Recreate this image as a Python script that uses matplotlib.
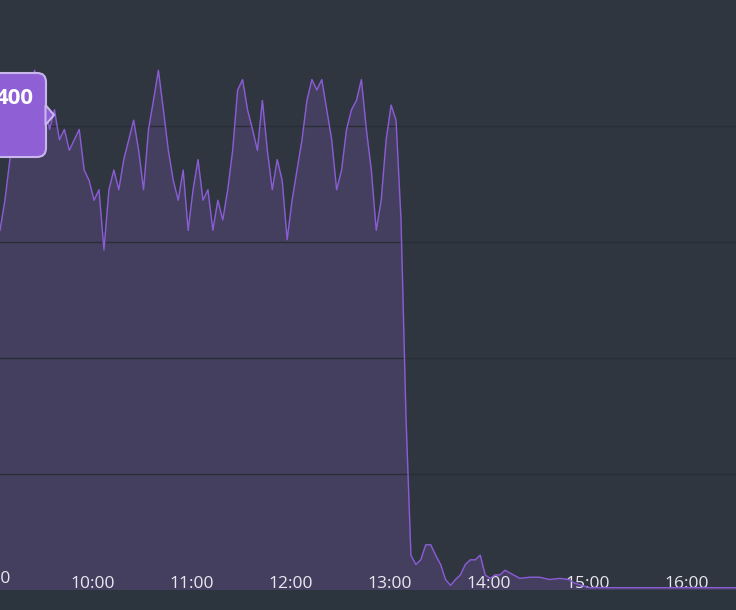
import matplotlib
matplotlib.use("Agg")
import matplotlib.pyplot as plt
import numpy as np
from matplotlib.patches import FancyBboxPatch, Polygon

BG = "#2f3640"
FILL = "#453f5f"
LINE = "#8a5cd6"

values_main = [
    310, 336, 371, 388, 379, 414, 431, 448, 414, 422, 397, 414, 388, 397, 379, 388,
    397, 362, 353, 336, 345, 293, 345, 362, 345, 371, 388, 405, 379, 345, 397, 422,
    448, 414, 379, 353, 336, 362, 310, 345, 371, 336, 345, 310, 336, 319, 345, 379,
    431, 440, 414, 397, 379, 422, 379, 345, 371, 353, 302, 336, 362, 388, 422, 440,
    431, 440, 414, 388, 345, 362, 397, 414, 422, 440, 397, 362, 310, 336, 388, 418,
    405, 319, 150, 30, 22, 26, 39, 39, 30, 22, 9, 4, 9, 13, 22, 26, 26, 30, 13, 10,
    13, 13, 17,
]
tail_minutes = [859, 865, 871, 877, 883, 889, 892, 901, 920, 990]
tail_values = [10, 11, 11, 9, 10, 9, 6, 2, 2, 2]

minutes = list(544 + 3 * np.arange(len(values_main))) + tail_minutes
values = values_main + tail_values

tick_minutes = [600, 660, 720, 780, 840, 900, 960]
tick_labels = ["10:00", "11:00", "12:00", "13:00", "14:00", "15:00", "16:00"]

plt.rcParams["font.family"] = ["Open Sans", "DejaVu Sans"]
fig = plt.figure(figsize=(7.36, 6.1), dpi=100)
fig.patch.set_facecolor("#2c353e")
ax = fig.add_axes([0, 20 / 610, 1, 590 / 610])
ax.set_facecolor(BG)

ax.fill_between(minutes, values, 0, color=FILL, zorder=1)
ax.plot(minutes, values, color=LINE, linewidth=1, zorder=3)

for g in [100, 200, 300, 400]:
    ax.axhline(g, color="#282e36", linewidth=1, zorder=2)

ax.set_xlim(544, 990)
ax.set_ylim(0, 590 / 1.16)
ax.set_xticks(tick_minutes)
ax.set_xticklabels(tick_labels)
ax.tick_params(axis="x", direction="in", length=0, pad=-10, labelsize=12.5, colors="#e8e8ee")
for lbl in ax.get_xticklabels():
    lbl.set_zorder(4)
ax.set_yticks([])
for s in ax.spines.values():
    s.set_visible(False)
ax.text(540, 11 / 1.16, "9:00", ha="center", va="center", fontsize=12.5, color="#e8e8ee", zorder=4)

# tooltip
box = FancyBboxPatch((-20, 610 - 157), 66, 84, boxstyle="round,pad=0,rounding_size=9",
                     transform=None, facecolor="#8f5fd6", edgecolor="#c9b6ec", linewidth=1.5, zorder=5)
fig.patches.append(box)
tri = Polygon([(45.5, 610 - 105), (54, 610 - 115), (45.5, 610 - 125)], closed=True, transform=None,
              facecolor="#8f5fd6", edgecolor="#c9b6ec", linewidth=1.5, zorder=5)
fig.patches.append(tri)
fig.text(34 / 736, 1 - 98 / 610, "400", ha="right", va="center", fontsize=16,
         fontweight="bold", color="white", zorder=6)

fig.savefig("out.png", dpi=100, facecolor=fig.get_facecolor())
